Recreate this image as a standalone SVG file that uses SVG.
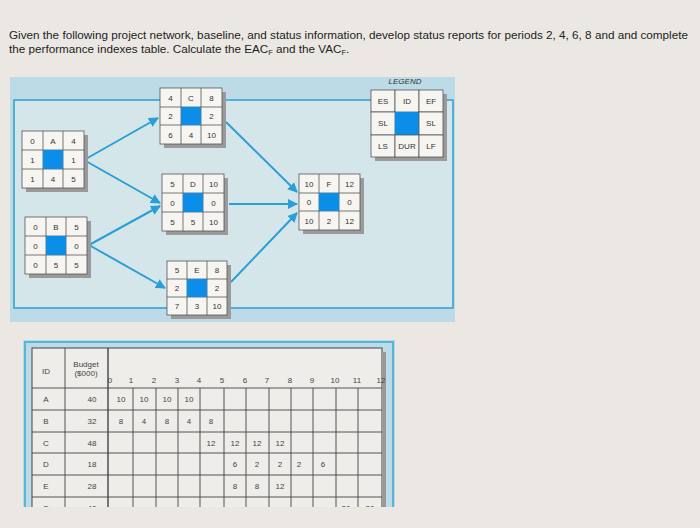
<svg xmlns="http://www.w3.org/2000/svg" width="700" height="528" viewBox="0 0 700 528">
<defs>
<style>
text{font-family:"Liberation Sans",Arial,sans-serif;fill:#333}
.t{font-size:11.7px;fill:#222}
.c{font-size:8px;text-anchor:middle}
.cell{fill:#f7f5f1;stroke:#555;stroke-width:0.8}
.blue{fill:#0a8ee8}
.sh{fill:#9a9a9a}
.con{stroke:#2a9fd6;stroke-width:2;fill:none;marker-end:url(#ah)}
.g{stroke:#444;stroke-width:0.9}
.tv{font-size:8px;text-anchor:middle;fill:#444}
</style>
<marker id="ah" viewBox="0 0 10 10" refX="9" refY="5" markerWidth="5" markerHeight="5" orient="auto"><path d="M0,0L10,5L0,10z" fill="#2a9fd6"/></marker>
<clipPath id="clip"><rect x="0" y="0" width="700" height="507"/></clipPath>
</defs>
<rect width="700" height="528" fill="#ebe8e3"/>
<text class="t" x="9" y="39" textLength="679" lengthAdjust="spacingAndGlyphs">Given the following project network, baseline, and status information, develop status reports for periods 2, 4, 6, 8 and and complete</text>
<text class="t" x="9" y="53">the performance indexes table. Calculate the EAC<tspan font-size="7.5" dy="2">F</tspan><tspan dy="-2"> and the VAC</tspan><tspan font-size="7.5" dy="2">F</tspan><tspan dy="-2">.</tspan></text>
<rect x="10" y="77" width="445" height="245" fill="#bcdbe6"/>
<rect x="14" y="100" width="439" height="208" fill="#d5e6ea" stroke="#2a9fd6" stroke-width="1.5"/>
<text x="405" y="84" font-size="8" font-style="italic" text-anchor="middle">LEGEND</text>
<g id="connectors">
<path class="con" d="M84,160L158,118"/>
<path class="con" d="M84,160L160,203"/>
<path class="con" d="M89,245L160,206"/>
<path class="con" d="M89,245L165,288"/>
<path class="con" d="M226,122L297,192"/>
<path class="con" d="M229,204L297,204"/>
<path class="con" d="M231,282L297,213"/>
</g>
<g id="nodes">
<g id="legend" transform="translate(371,90)">
<rect class="sh" x="4" y="4" width="72" height="67"/>
<rect class="cell" x="0" y="0" width="24" height="22"/><rect class="cell" x="24" y="0" width="24" height="22"/><rect class="cell" x="48" y="0" width="24" height="22"/>
<rect class="cell" x="0" y="22" width="24" height="23"/><rect class="blue" x="24" y="22" width="24" height="23"/><rect class="cell" x="48" y="22" width="24" height="23"/>
<rect class="cell" x="0" y="45" width="24" height="22"/><rect class="cell" x="24" y="45" width="24" height="22"/><rect class="cell" x="48" y="45" width="24" height="22"/>
<text class="c" x="12" y="14">ES</text><text class="c" x="36" y="14">ID</text><text class="c" x="60" y="14">EF</text>
<text class="c" x="12" y="36">SL</text><text class="c" x="60" y="36">SL</text>
<text class="c" x="12" y="59">LS</text><text class="c" x="36" y="59">DUR</text><text class="c" x="60" y="59">LF</text>
</g>
<g id="nodeA" transform="translate(22,131)">
<rect class="sh" x="4" y="4" width="62" height="57"/>
<rect class="cell" width="62" height="57"/><path d="M21,0V57M41,0V57M0,19H62M0,38H62" stroke="#555" stroke-width="0.8"/><rect class="blue" x="21" y="19" width="20" height="19"/>
<text class="c" x="10.5" y="13">0</text><text class="c" x="31" y="13">A</text><text class="c" x="51.5" y="13">4</text>
<text class="c" x="10.5" y="32">1</text><text class="c" x="51.5" y="32">1</text>
<text class="c" x="10.5" y="51">1</text><text class="c" x="31" y="51">4</text><text class="c" x="51.5" y="51">5</text>
</g>
<g id="nodeB" transform="translate(25,217)">
<rect class="sh" x="4" y="4" width="62" height="57"/>
<rect class="cell" width="62" height="57"/><path d="M21,0V57M41,0V57M0,19H62M0,38H62" stroke="#555" stroke-width="0.8"/><rect class="blue" x="21" y="19" width="20" height="19"/>
<text class="c" x="10.5" y="13">0</text><text class="c" x="31" y="13">B</text><text class="c" x="51.5" y="13">5</text>
<text class="c" x="10.5" y="32">0</text><text class="c" x="51.5" y="32">0</text>
<text class="c" x="10.5" y="51">0</text><text class="c" x="31" y="51">5</text><text class="c" x="51.5" y="51">5</text>
</g>
<g id="nodeC" transform="translate(160,88)">
<rect class="sh" x="4" y="4" width="62" height="56"/>
<rect class="cell" width="62" height="56"/><path d="M21,0V56M41,0V56M0,19H62M0,37H62" stroke="#555" stroke-width="0.8"/><rect class="blue" x="21" y="19" width="20" height="18"/>
<text class="c" x="10.5" y="13">4</text><text class="c" x="31" y="13">C</text><text class="c" x="51.5" y="13">8</text>
<text class="c" x="10.5" y="31">2</text><text class="c" x="51.5" y="31">2</text>
<text class="c" x="10.5" y="50">6</text><text class="c" x="31" y="50">4</text><text class="c" x="51.5" y="50">10</text>
</g>
<g id="nodeD" transform="translate(162,174)">
<rect class="sh" x="4" y="4" width="62" height="57"/>
<rect class="cell" width="62" height="57"/><path d="M21,0V57M41,0V57M0,19H62M0,38H62" stroke="#555" stroke-width="0.8"/><rect class="blue" x="21" y="19" width="20" height="19"/>
<text class="c" x="10.5" y="13">5</text><text class="c" x="31" y="13">D</text><text class="c" x="51.5" y="13">10</text>
<text class="c" x="10.5" y="32">0</text><text class="c" x="51.5" y="32">0</text>
<text class="c" x="10.5" y="51">5</text><text class="c" x="31" y="51">5</text><text class="c" x="51.5" y="51">10</text>
</g>
<g id="nodeE" transform="translate(167,261)">
<rect class="sh" x="4" y="4" width="60" height="54"/>
<rect class="cell" width="60" height="54"/><path d="M20,0V54M40,0V54M0,18H60M0,36H60" stroke="#555" stroke-width="0.8"/><rect class="blue" x="20" y="18" width="20" height="18"/>
<text class="c" x="10" y="12">5</text><text class="c" x="30" y="12">E</text><text class="c" x="50" y="12">8</text>
<text class="c" x="10" y="30">2</text><text class="c" x="50" y="30">2</text>
<text class="c" x="10" y="48">7</text><text class="c" x="30" y="48">3</text><text class="c" x="50" y="48">10</text>
</g>
<g id="nodeF" transform="translate(299,174)">
<rect class="sh" x="4" y="4" width="61" height="56"/>
<rect class="cell" width="61" height="56"/><path d="M20,0V56M40,0V56M0,19H61M0,37H61" stroke="#555" stroke-width="0.8"/><rect class="blue" x="20" y="19" width="20" height="18"/>
<text class="c" x="10" y="13">10</text><text class="c" x="30" y="13">F</text><text class="c" x="50.5" y="13">12</text>
<text class="c" x="10" y="31">0</text><text class="c" x="50.5" y="31">0</text>
<text class="c" x="10" y="50">10</text><text class="c" x="30" y="50">2</text><text class="c" x="50.5" y="50">12</text>
</g>
</g>
<g id="table" clip-path="url(#clip)">
<rect x="23" y="340" width="372" height="180" fill="#bcdbe6"/>
<rect x="25" y="342" width="368" height="180" fill="none" stroke="#5ab4d8" stroke-width="2"/>
<rect x="32" y="348" width="350" height="175" fill="#efede9" stroke="#444"/>
<rect x="382" y="352" width="4" height="170" fill="#999"/>
<path class="g" d="M65,348V523M108,348V523M32,388H382M32,410H382M32,432H382M32,453H382M32,475H382M32,497H382"/>
<path class="g" stroke-width="1.6" d="M108,348V523"/>
<path class="g" d="M133,388V523M156,388V523M178,388V523M200,388V523M224,388V523M246,388V523M269,388V523M291,388V523M313,388V523M336,388V523M358,388V523"/>
<text class="tv" x="46" y="374">ID</text>
<text class="tv" x="86" y="367">Budget</text><text class="tv" x="86" y="376">($000)</text>
<text class="tv" x="110" y="383">0</text><text class="tv" x="131" y="383">1</text><text class="tv" x="154" y="383">2</text><text class="tv" x="177" y="383">3</text><text class="tv" x="199" y="383">4</text><text class="tv" x="222" y="383">5</text><text class="tv" x="245" y="383">6</text><text class="tv" x="267" y="383">7</text><text class="tv" x="290" y="383">8</text><text class="tv" x="312" y="383">9</text><text class="tv" x="335" y="383">10</text><text class="tv" x="357" y="383">11</text><text class="tv" x="381" y="383">12</text>
<text class="tv" x="46" y="402">A</text><text class="tv" x="92" y="402">40</text>
<text class="tv" x="121" y="402">10</text><text class="tv" x="144" y="402">10</text><text class="tv" x="167" y="402">10</text><text class="tv" x="189" y="402">10</text>
<text class="tv" x="46" y="424">B</text><text class="tv" x="92" y="424">32</text>
<text class="tv" x="121" y="424">8</text><text class="tv" x="144" y="424">4</text><text class="tv" x="167" y="424">8</text><text class="tv" x="189" y="424">4</text><text class="tv" x="211" y="424">8</text>
<text class="tv" x="46" y="446">C</text><text class="tv" x="92" y="446">48</text>
<text class="tv" x="211" y="446">12</text><text class="tv" x="235" y="446">12</text><text class="tv" x="257" y="446">12</text><text class="tv" x="280" y="446">12</text>
<text class="tv" x="46" y="467">D</text><text class="tv" x="92" y="467">18</text>
<text class="tv" x="235" y="467">6</text><text class="tv" x="257" y="467">2</text><text class="tv" x="280" y="467">2</text><text class="tv" x="299" y="467">2</text><text class="tv" x="323" y="467">6</text>
<text class="tv" x="46" y="489">E</text><text class="tv" x="92" y="489">28</text>
<text class="tv" x="235" y="489">8</text><text class="tv" x="257" y="489">8</text><text class="tv" x="280" y="489">12</text>
<text class="tv" x="46" y="511">F</text><text class="tv" x="92" y="511">40</text>
<text class="tv" x="346" y="511">20</text><text class="tv" x="370" y="511">20</text>
</g>
</svg>
